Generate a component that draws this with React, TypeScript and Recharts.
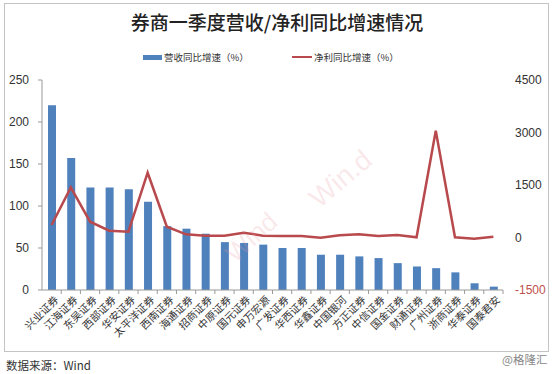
import React from 'react';
import { ComposedChart, Bar, Line, XAxis, YAxis } from 'recharts';

const categories = ['兴业证券', '江海证券', '东吴证券', '西部证券', '华安证券', '太平洋证券', '西南证券', '海通证券', '招商证券', '中原证券', '国元证券', '申万宏源', '广发证券', '华西证券', '华鑫证券', '中国银河', '方正证券', '中信证券', '国金证券', '财通证券', '广州证券', '浙商证券', '华泰证券', '国泰君安'];
const revenueGrowth = [220, 157, 122, 122, 120, 105, 76, 73, 67, 57, 56, 54, 50, 50, 42, 42, 40, 38, 32, 28, 26, 21, 8, 4];
const profitGrowth = [357, 1434, 452, 195, 166, 1851, 309, 91, 53, 53, 137, 53, 43, 43, -5, 62, 91, 43, 71, 5, 3051, 5, -33, 24];
const leftTicks = [0, 50, 100, 150, 200, 250];
const rightTicks = [-1500, 0, 1500, 3000, 4500];

const data = categories.map((name, i) => ({ name, rev: revenueGrowth[i], profit: profitGrowth[i] }));

const W = 554;
const H = 374;
const LEFT_W = 42;
const RIGHT_W = 51;
const PLOT_W = W - LEFT_W - RIGHT_W;
const BLUE = '#4F81BD';
const RED = '#B8494D';
const CJK = '"Noto Sans CJK SC", "Noto Sans", sans-serif';

const XTick = (props: any) => {
  const { x, y, payload } = props;
  const band = PLOT_W / categories.length;
  return (
    <g>
      <line x1={x + band / 2} y1={y} x2={x + band / 2} y2={y + 4} stroke="#999" strokeWidth={1} />
      <text
        x={x + 2}
        y={y + 5}
        transform={`rotate(-45, ${x + 2}, ${y + 5})`}
        textAnchor="end"
        dy="0.75em"
        fontSize={10.5}
        fill="#333"
        fontFamily={CJK}
      >
        {payload.value}
      </text>
    </g>
  );
};

const RightTick = (props: any) => {
  const { x, y, payload } = props;
  return (
    <text x={x} y={y} dy="0.35em" textAnchor="start" fontSize={12} fontFamily="Arial, 'Liberation Sans', sans-serif" fill={payload.value < 0 ? '#C0504D' : '#333'}>
      {payload.value}
    </text>
  );
};

export default function App() {
  return (
    <div style={{ position: 'absolute', left: 0, top: 0, width: W, height: H, background: '#fff', overflow: 'hidden' }}>
      <div style={{ position: 'absolute', left: 4, top: 3, width: 545, height: 349, border: '1px solid #c4c4c4', boxSizing: 'border-box' }} />
      <div style={{ position: 'absolute', left: 0, top: 9, width: W, textAlign: 'center', fontFamily: CJK, fontSize: 19, fontWeight: 500, color: '#222', lineHeight: '26px' }}>
        券商一季度营收/净利同比增速情况
      </div>
      <div style={{ position: 'absolute', left: 143, top: 50, height: 14, display: 'flex', alignItems: 'center', fontFamily: CJK, fontSize: 9.5, color: '#333' }}>
        <span style={{ display: 'inline-block', width: 19, height: 5, background: BLUE, marginRight: 2 }} />
        <span>营收同比增速（%）</span>
      </div>
      <div style={{ position: 'absolute', left: 292, top: 50, height: 14, display: 'flex', alignItems: 'center', fontFamily: CJK, fontSize: 9.5, color: '#333' }}>
        <span style={{ display: 'inline-block', width: 20, height: 2, background: RED, marginRight: 2 }} />
        <span>净利同比增速（%）</span>
      </div>
      <div style={{ position: 'absolute', left: 0, top: 0 }}>
        <ComposedChart width={W} height={H} data={data} margin={{ top: 80, right: 0, bottom: 24, left: 0 }} barSize={8}>
          <XAxis
            dataKey="name"
            xAxisId="x"
            interval={0}
            height={60}
            tickSize={0}
            tickMargin={0}
            tickLine={false}
            axisLine={{ stroke: '#999' }}
            tick={<XTick />}
          />
          <YAxis
            yAxisId="left"
            orientation="left"
            width={LEFT_W}
            domain={[0, 250]}
            ticks={leftTicks}
            interval={0}
            tickSize={4}
            tickMargin={9}
            axisLine={{ stroke: '#999' }}
            tickLine={{ stroke: '#999' }}
            tick={{ fontSize: 12, fill: '#333', fontFamily: "Arial, 'Liberation Sans', sans-serif" }}
          />
          <YAxis
            yAxisId="right"
            orientation="right"
            width={RIGHT_W}
            domain={[-1500, 4500]}
            ticks={rightTicks}
            interval={0}
            tickSize={6}
            tickMargin={6}
            axisLine={false}
            tickLine={false}
            tick={<RightTick />}
          />
          <Bar xAxisId="x" yAxisId="left" dataKey="rev" fill={BLUE} isAnimationActive={false} />
          <Line xAxisId="x" yAxisId="right" dataKey="profit" type="linear" stroke={RED} strokeWidth={2.5} dot={false} activeDot={false} isAnimationActive={false} />
        </ComposedChart>
      </div>
      <div style={{ position: 'absolute', left: 222, top: 222, transform: 'rotate(-42deg)', fontFamily: 'Arial, sans-serif', fontSize: 26, color: 'rgba(230,150,160,0.22)', pointerEvents: 'none' }}>
        Wind
      </div>
      <div style={{ position: 'absolute', left: 305, top: 163, transform: 'rotate(-40deg)', fontFamily: 'Arial, sans-serif', fontSize: 28, color: 'rgba(230,150,160,0.22)', pointerEvents: 'none' }}>
        Win.d
      </div>
      <div style={{ position: 'absolute', left: 6, top: 357, fontFamily: CJK, fontSize: 11.5, color: '#333' }}>
        数据来源：Wind
      </div>
      <div style={{ position: 'absolute', left: 502, top: 351, fontFamily: CJK, fontSize: 11.5, color: '#888' }}>
        @格隆汇
      </div>
    </div>
  );
}
